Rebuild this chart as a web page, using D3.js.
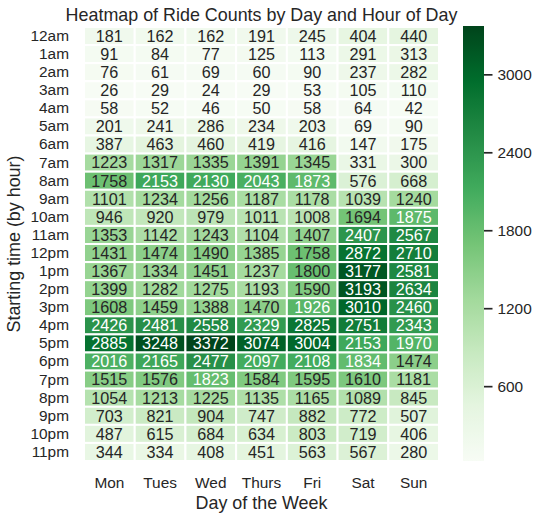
<!DOCTYPE html>
<html>
<head>
<meta charset="utf-8">
<script src="https://cdn.jsdelivr.net/npm/d3@7"></script>
<style>
  html, body { margin: 0; padding: 0; background: #ffffff; }
  svg { display: block; }
  text { font-family: "Liberation Sans", Arial, sans-serif; fill: #262626; }
</style>
</head>
<body>
<svg id="chart" width="540" height="518"></svg>
<script>
// ---------------- DATA ----------------
const days = ["Mon", "Tues", "Wed", "Thurs", "Fri", "Sat", "Sun"];
const hours = ["12am", "1am", "2am", "3am", "4am", "5am", "6am", "7am", "8am", "9am", "10am", "11am",
               "12pm", "1pm", "2pm", "3pm", "4pm", "5pm", "6pm", "7pm", "8pm", "9pm", "10pm", "11pm"];
const mon   = [181, 91, 76, 26, 58, 201, 387, 1223, 1758, 1101, 946, 1353, 1431, 1367, 1399, 1608, 2426, 2885, 2016, 1515, 1054, 703, 487, 344];
const tues  = [162, 84, 61, 29, 52, 241, 463, 1317, 2153, 1234, 920, 1142, 1474, 1334, 1282, 1459, 2481, 3248, 2165, 1576, 1213, 821, 615, 334];
const wed   = [162, 77, 69, 24, 46, 286, 460, 1335, 2130, 1256, 979, 1243, 1490, 1451, 1275, 1388, 2558, 3372, 2477, 1823, 1225, 904, 684, 408];
const thurs = [191, 125, 60, 29, 50, 234, 419, 1391, 2043, 1187, 1011, 1104, 1385, 1237, 1193, 1470, 2329, 3074, 2097, 1584, 1135, 747, 634, 451];
const fri   = [245, 113, 90, 53, 58, 203, 416, 1345, 1873, 1178, 1008, 1407, 1758, 1800, 1590, 1926, 2825, 3004, 2108, 1595, 1165, 882, 803, 563];
const sat   = [404, 291, 237, 105, 64, 69, 147, 331, 576, 1039, 1694, 2407, 2872, 3177, 3193, 3010, 2751, 2153, 1834, 1610, 1089, 772, 719, 567];
const sun   = [440, 313, 282, 110, 42, 90, 175, 300, 668, 1240, 1875, 2567, 2710, 2581, 2634, 2460, 2343, 1970, 1474, 1181, 845, 507, 406, 280];
const colorbarTicks = [600, 1200, 1800, 2400, 3000];
const title = "Heatmap of Ride Counts by Day and Hour of Day";
const xLabel = "Day of the Week";
const yLabel = "Starting time (by hour)";

// ---------------- BUILD ----------------
(function () {
const seriesByDay = [mon, tues, wed, thurs, fri, sat, sun];
const cells = [];
days.forEach((d, i) => hours.forEach((h, j) => cells.push({ day: d, hour: h, value: seriesByDay[i][j] })));
const allVals = cells.map(c => c.value);
const vmin = d3.min(allVals), vmax = d3.max(allVals);

// matplotlib "Greens" (ColorBrewer 9-class, linear segments)
const greens = ["#f7fcf5", "#e5f5e0", "#c7e9c0", "#a1d99b", "#74c476", "#41ab5d", "#238b45", "#006d2c", "#00441b"];
const color = d3.scaleLinear()
  .domain(d3.range(greens.length).map(i => vmin + (vmax - vmin) * i / (greens.length - 1)))
  .range(greens)
  .interpolate(d3.interpolateRgb);

function relLum(c) {
  const rgb = d3.rgb(c);
  const f = v => { v /= 255; return v <= 0.03928 ? v / 12.92 : Math.pow((v + 0.055) / 1.055, 2.4); };
  return 0.2126 * f(rgb.r) + 0.7152 * f(rgb.g) + 0.0722 * f(rgb.b);
}

const svg = d3.select("#chart");
const pLeft = 84, pRight = 439, pTop = 27, pBottom = 461;

const x = d3.scaleBand().domain(days).range([pLeft, pRight]);
const y = d3.scaleBand().domain(hours).range([pTop, pBottom]);

// cells
svg.append("g").selectAll("rect").data(cells).join("rect")
  .attr("x", d => x(d.day))
  .attr("y", d => y(d.hour))
  .attr("width", x.bandwidth())
  .attr("height", y.bandwidth())
  .attr("fill", d => color(d.value))
  .attr("stroke", "#ffffff")
  .attr("stroke-width", 2);

// annotations
svg.append("g").selectAll("text").data(cells).join("text")
  .attr("x", d => x(d.day) + x.bandwidth() / 2)
  .attr("y", d => y(d.hour) + y.bandwidth() / 2)
  .attr("dy", "0.36em")
  .attr("text-anchor", "middle")
  .style("font-size", "16.2px")
  .style("fill", d => relLum(color(d.value)) > 0.408 ? "#262626" : "#ffffff")
  .text(d => d.value);

// axes
const xAxis = svg.append("g").attr("transform", `translate(0,${pBottom})`)
  .call(d3.axisBottom(x).tickSize(0).tickPadding(16));
xAxis.select(".domain").remove();
xAxis.selectAll("text").style("font-size", "15.4px").style("fill", "#262626");

const yAxis = svg.append("g").attr("transform", `translate(${pLeft},0)`)
  .call(d3.axisLeft(y).tickSize(0).tickPadding(15));
yAxis.select(".domain").remove();
yAxis.selectAll("text").style("font-size", "15.4px").style("fill", "#262626");

// titles
svg.append("text")
  .attr("x", (pLeft + pRight) / 2).attr("y", 21.4)
  .attr("text-anchor", "middle")
  .style("font-size", "17.9px")
  .text(title);

svg.append("text")
  .attr("x", (pLeft + pRight) / 2).attr("y", 509)
  .attr("text-anchor", "middle")
  .style("font-size", "17.9px")
  .text(xLabel);

svg.append("text")
  .attr("transform", `translate(19.5,${(pTop + pBottom) / 2}) rotate(-90)`)
  .attr("text-anchor", "middle")
  .style("font-size", "17.9px")
  .text(yLabel);

// colorbar
const cbX = 463, cbW = 21, cbTop = 26, cbBottom = 461;
const cy = d3.scaleLinear().domain([vmin, vmax]).range([cbBottom, cbTop]);
const defs = svg.append("defs");
const grad = defs.append("linearGradient").attr("id", "cbgrad")
  .attr("x1", 0).attr("y1", 1).attr("x2", 0).attr("y2", 0);
d3.range(0, 101).forEach(i => {
  const v = vmin + (vmax - vmin) * i / 100;
  grad.append("stop").attr("offset", `${i}%`).attr("stop-color", color(v));
});
svg.append("rect")
  .attr("x", cbX).attr("y", cbTop)
  .attr("width", cbW).attr("height", cbBottom - cbTop)
  .attr("fill", "url(#cbgrad)");

const cbAxis = svg.append("g").attr("transform", `translate(${cbX + cbW},0)`)
  .call(d3.axisRight(cy).tickValues(colorbarTicks).tickFormat(d3.format("d")).tickSize(8.5).tickPadding(5));
cbAxis.select(".domain").remove();
cbAxis.selectAll("line").attr("stroke", "#262626").attr("stroke-width", 1.7);
cbAxis.selectAll("text").style("font-size", "15.4px").style("fill", "#262626");
})();
</script>
</body>
</html>
